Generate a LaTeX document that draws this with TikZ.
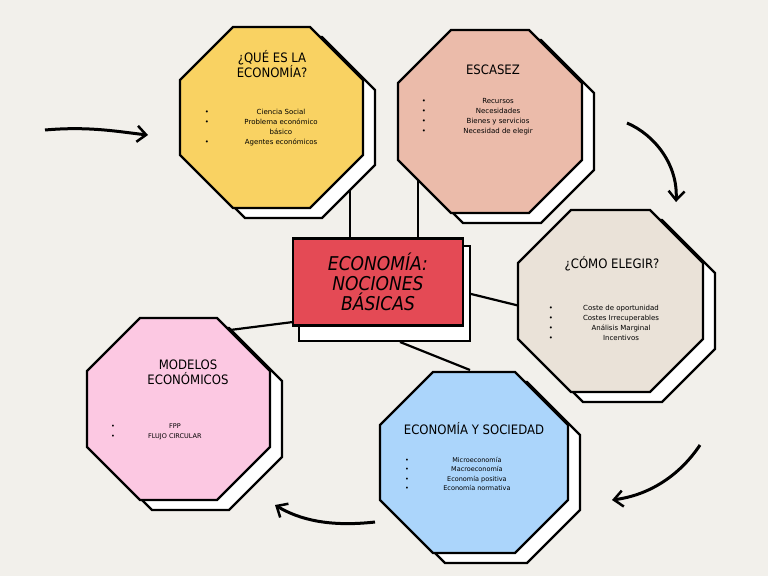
\documentclass[tikz,border=0pt]{standalone}
\usepackage{fontspec}
\setmainfont{DejaVu Sans}
\newfontfamily\ttl{DejaVu Sans Condensed}
\usetikzlibrary{arrows.meta}
\definecolor{bg}{HTML}{F2F0EB}
\definecolor{cyel}{HTML}{F9D262}
\definecolor{csal}{HTML}{EBBBAA}
\definecolor{cbei}{HTML}{EAE2D8}
\definecolor{cblu}{HTML}{ABD5FB}
\definecolor{cpnk}{HTML}{FCC8E2}
\definecolor{cred}{HTML}{E44A55}
\tikzset{
 edge/.style={line width=2.2pt},
 arr/.style={line width=3pt,-{Straight Barb[length=9pt,width=16pt,line width=2.5pt]}},
 ttlnode/.style={font=\ttl\fontsize{13}{15}\selectfont,align=center},
 body/.style={font=\fontsize{7}{10}\selectfont,align=left},
}
% \oct{name}{x0}{y0}{x1}{y1}{color}
\newcommand{\octpath}[4]{(#1+53,#2)--(#3-53,#2)--(#3,#2+53)--(#3,#4-53)--(#3-53,#4)--(#1+53,#4)--(#1,#4-53)--(#1,#2+53)--cycle}
\newcommand{\oct}[6]{%
 \draw[line width=2.2pt,fill=white] \octpath{#2+12}{#3+10}{#4+12}{#5+10};
 \draw[line width=2.2pt,fill=#6] \octpath{#2}{#3}{#4}{#5};
 \coordinate (#1) at ({(#2+#4)/2},{(#3+#5)/2});}
\begin{document}
\begin{tikzpicture}[x=1pt,y=-1pt]
\fill[bg] (0,0) rectangle (768,576);
\useasboundingbox (0,0) rectangle (768,576);
% connectors behind
\coordinate (c1a) at (350,190); \coordinate (c1b) at (350,240);
\coordinate (c2a) at (418,180); \coordinate (c2b) at (418,240);
\draw[edge] (c1a)--(c1b); \draw[edge] (c2a)--(c2b);
\coordinate (cb) at (520,306); \coordinate (cp) at (230,330); \coordinate (cbl) at (470,370);
\draw[edge] (463,292)--(cb); \draw[edge] (293,322)--(cp); \draw[edge] (400,342)--(cbl);
\oct{q}{180}{27}{363}{208}{cyel}
\oct{e}{398}{30}{582}{213}{csal}
\oct{c}{518}{210}{703}{392}{cbei}
\oct{s}{380}{372}{568}{553}{cblu}
\oct{m}{87}{318}{270}{500}{cpnk}
% center
\draw[line width=2.2pt,fill=white] (299,246) rectangle (470,341);
\node[draw,line width=2.5pt,fill=cred,minimum width=170pt,minimum height=87pt,
  font=\ttl\itshape\fontsize{19}{20}\selectfont,align=center,inner sep=0pt] (t) at (378,282)
  {ECONOMÍA:\\NOCIONES\\BÁSICAS};
% texts
\node[ttlnode] (qt) at (272,64) {¿QUÉ ES LA\\ECONOMÍA?};
\node[body] (qb) at (268,128) {•\hspace{22pt}\makebox[100pt]{Ciencia Social}\\•\hspace{22pt}\makebox[100pt]{Problema económico}\\\hspace{26pt}\makebox[100pt]{básico}\\•\hspace{22pt}\makebox[100pt]{Agentes económicos}};
\node[ttlnode] (et) at (493,70) {ESCASEZ};
\node[body] (eb) at (485,117) {•\hspace{22pt}\makebox[100pt]{Recursos}\\•\hspace{22pt}\makebox[100pt]{Necesidades}\\•\hspace{22pt}\makebox[100pt]{Bienes y servicios}\\•\hspace{22pt}\makebox[100pt]{Necesidad de elegir}};
\node[ttlnode] (ct) at (612,264) {¿CÓMO ELEGIR?};
\node[body] (cb2) at (610,323) {•\hspace{18pt}\makebox[100pt]{Coste de oportunidad}\\•\hspace{18pt}\makebox[100pt]{Costes Irrecuperables}\\•\hspace{18pt}\makebox[100pt]{Análisis Marginal}\\•\hspace{18pt}\makebox[100pt]{Incentivos}};
\node[ttlnode] (st) at (474,429) {ECONOMÍA Y SOCIEDAD};
\node[body,font=\fontsize{6.5}{9.5}\selectfont] (sb) at (466,474) {•\hspace{18pt}\makebox[100pt]{Microeconomía}\\•\hspace{18pt}\makebox[100pt]{Macroeconomía}\\•\hspace{18pt}\makebox[100pt]{Economía positiva}\\•\hspace{18pt}\makebox[100pt]{Economía normativa}};
\node[ttlnode] (mt) at (188,372) {MODELOS\\ECONÓMICOS};
\node[body,font=\fontsize{6.5}{9.5}\selectfont] (mb) at (168,432) {•\hspace{10pt}\makebox[100pt]{FPP}\\•\hspace{10pt}\makebox[100pt]{FLUJO CIRCULAR}};
% arrows
\coordinate (a0) at (45,130); \coordinate (a1) at (148,135);
\draw[arr] (a0) .. controls (90,126) and (120,132) .. (a1);
\coordinate (b0) at (627,372); \coordinate (b1) at (676,202);
\coordinate (b0) at (627,123);
\draw[arr] (b0) .. controls (655,135) and (678,165) .. (b1);
\coordinate (d0) at (700,445); \coordinate (d1) at (612,500);
\draw[arr] (d0) .. controls (680,475) and (650,495) .. (d1);
\coordinate (f0) at (375,522); \coordinate (f1) at (275,505);
\draw[arr] (f0) .. controls (330,527) and (300,520) .. (f1);
\end{tikzpicture}
\end{document}
